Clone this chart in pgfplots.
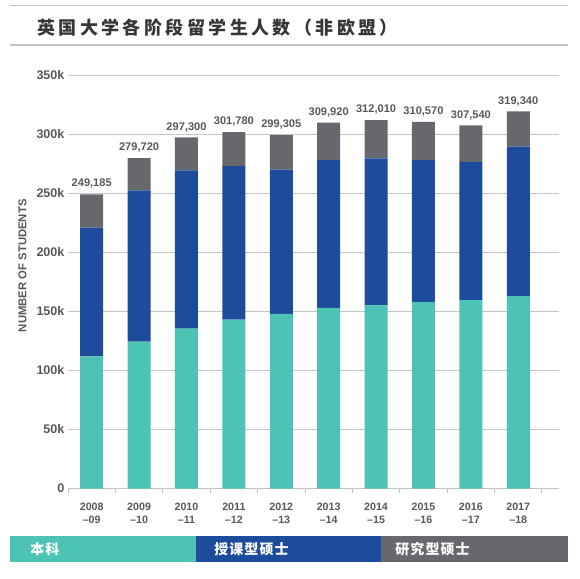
\documentclass[border=0pt]{standalone}
\usepackage{fontspec}
\setmainfont{Liberation Sans}
\newfontfamily\cjk{Noto Sans CJK SC}
\usepackage{pgfplots}
\pgfplotsset{compat=1.18}
\usepackage{pgfplotstable}

\definecolor{ugteal}{HTML}{4CC3B4}
\definecolor{pgtblue}{HTML}{1E4C9C}
\definecolor{pgrgrey}{HTML}{67686D}
\definecolor{labgrey}{HTML}{58585B}
\definecolor{titlegrey}{HTML}{363636}
\definecolor{gridgrey}{HTML}{C4C4C4}

% Non-EU students by level: undergraduate, taught postgraduate, total
\pgfplotstableread{
idx ug pgt total
0 112000 109000 249185
1 124500 128000 279720
2 135500 134000 297300
3 143000 130000 301780
4 148000 122000 299305
5 153000 125000 309920
6 155000 124500 312010
7 158000 120000 310570
8 159500 117000 307540
9 163000 126500 319340
}\intl

\begin{document}
\begin{tikzpicture}
\begin{scope}[x=0.75pt,y=-0.75pt]
\path (0,0) rectangle (580,578);
\draw[gridgrey, line width=0.9pt] (10,5.5) -- (568,5.5);
\draw[gridgrey, line width=0.9pt] (10,45) -- (568,45);
\node[anchor=west, inner sep=0pt, text=titlegrey,
      font=\cjk\bfseries\fontsize{13.5}{16}\selectfont\addfontfeature{LetterSpace=19}]
  at (37,28) {英国大学各阶段留学生人数（非欧盟）};
% level key band
\fill[ugteal] (10,536) rectangle (196,562);
\fill[pgtblue] (196,536) rectangle (381,562);
\fill[pgrgrey] (381,536) rectangle (568,562);
\begin{scope}[every node/.style={anchor=west, inner sep=0pt, text=white,
      font=\cjk\bfseries\fontsize{10.5}{12}\selectfont\addfontfeature{LetterSpace=8}}]
\node at (30,549) {本科};
\node at (214,549) {授课型硕士};
\node at (395,549) {研究型硕士};
\end{scope}
\end{scope}

\begin{axis}[
  at={(51pt,-366.4pt)}, anchor=south west,
  scale only axis, width=368.25pt, height=310pt,
  ybar stacked, bar width=17.25pt,
  stacked ignores zero=false,
  xmin=-0.5, xmax=9.86, ymin=0, ymax=350000,
  scaled y ticks=false,
  axis x line=bottom, axis y line=left,
  x axis line style={-, draw=gridgrey, line width=0.9pt},
  y axis line style={draw=none},
  ytick={0,50000,100000,150000,200000,250000,300000,350000},
  yticklabels={0,50k,100k,150k,200k,250k,300k,350k},
  ymajorgrids, grid style={gridgrey, line width=0.9pt},
  xtick={0,...,9},
  xticklabels={2008\\–09,2009\\–10,2010\\–11,2011\\–12,2012\\–13,2013\\–14,2014\\–15,2015\\–16,2016\\–17,2017\\–18},
  minor xtick={-0.5,0.5,...,9.5},
  major tick length=0pt, minor tick length=3pt, tick align=outside,
  minor tick style={gridgrey, line width=0.7pt},
  yticklabel style={font=\fontsize{9.4}{11}\selectfont\bfseries, text=labgrey, anchor=east, inner sep=0pt, xshift=-2.5pt},
  xticklabel style={font=\fontsize{8}{9.75}\selectfont\bfseries, text=labgrey, align=center, anchor=north, inner sep=0pt, yshift=-11pt},
  ylabel={NUMBER OF STUDENTS},
  ylabel style={at={(axis description cs:-0.0927,0.539)}, anchor=center, font=\fontsize{8.5}{10}\selectfont\bfseries, text=labgrey},
]
\addplot[fill=ugteal, draw=none] table[x=idx, y=ug] {\intl};
\addplot[fill=pgtblue, draw=none] table[x=idx, y=pgt] {\intl};
\addplot[fill=pgrgrey, draw=none]
  table[x=idx, y expr=\thisrow{total}-\thisrow{ug}-\thisrow{pgt}] {\intl};
% zero-height layer on top of each stack carries the total
\addplot[draw=none, fill=none,
  point meta=\thisrow{total},
  nodes near coords={\pgfmathprintnumber[fixed,precision=0,1000 sep={,},assume math mode=true]{\pgfplotspointmeta}},
  every node near coord/.append style={font=\fontsize{8.3}{10}\selectfont\bfseries, text=labgrey, anchor=south, inner sep=0pt, yshift=4pt}]
  table[x=idx, y expr=0] {\intl};
\end{axis}
\end{tikzpicture}
\end{document}
